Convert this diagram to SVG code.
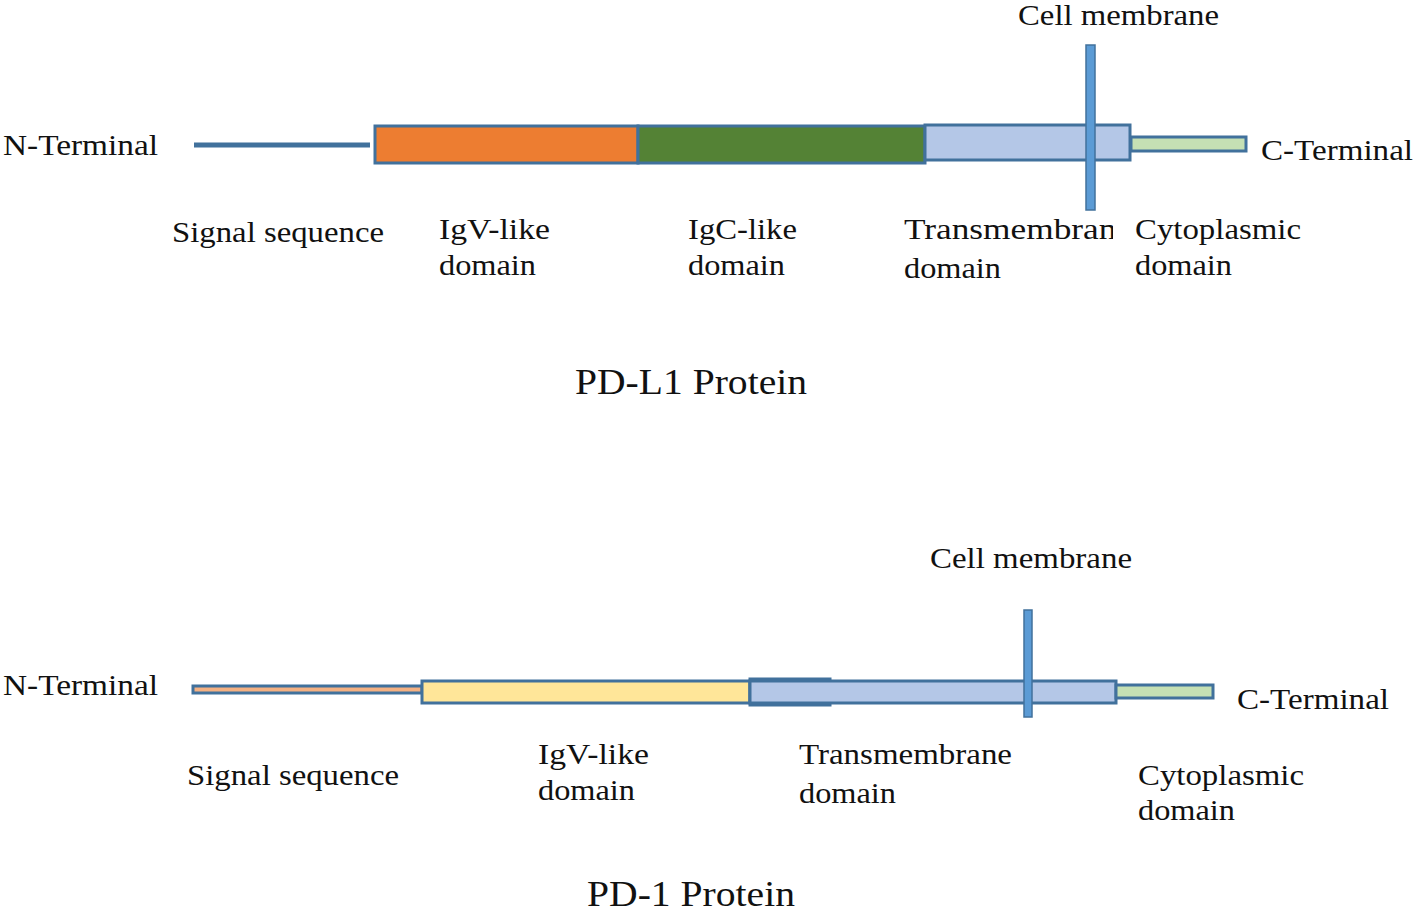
<svg xmlns="http://www.w3.org/2000/svg" width="1418" height="913" viewBox="0 0 1418 913">
<style>
text{font-family:"Liberation Serif","Times New Roman",serif;font-size:30px;fill:#111}
.t{font-size:35px}
.b{stroke:#41719c;stroke-width:3}
.m{fill:#5b9bd5;stroke:#41719c;stroke-width:1.5}
</style>
<rect width="1418" height="913" fill="#fff"/>
<g id="connectors">
<line x1="194" y1="145" x2="370" y2="145" stroke="#41719c" stroke-width="5"/>
<rect x="193" y="686" width="229" height="7" fill="#f4b183" class="b"/>
</g>
<g id="pdl1">
<rect id="igv1" x="375" y="126" width="263" height="37" fill="#ed7d31" class="b"/>
<rect id="igc1" x="638" y="126" width="287" height="37" fill="#548235" class="b"/>
<rect id="tm1" x="925" y="125" width="205" height="35" fill="#b4c7e7" class="b"/>
<rect id="cyto1" x="1131" y="137" width="115" height="14" fill="#c5e0b4" class="b"/>
<rect id="mem1" x="1086" y="45" width="9" height="165" class="m"/>
</g>
<g id="pd1">
<rect id="igv2" x="422" y="681" width="328" height="22" fill="#ffe699" class="b"/>
<rect x="750" y="679" width="80" height="26" fill="#b4c7e7" class="b"/>
<rect id="tm2" x="750" y="681" width="366" height="22" fill="#b4c7e7" class="b"/>
<rect id="cyto2" x="1116" y="685" width="97" height="13" fill="#c5e0b4" class="b"/>
<rect id="mem2" x="1024" y="610" width="8" height="107" class="m"/>
</g>
<g id="labels" lengthAdjust="spacingAndGlyphs">
<text x="1018" y="25" textLength="201" lengthAdjust="spacingAndGlyphs">Cell membrane</text>
<text x="3" y="155" textLength="155" lengthAdjust="spacingAndGlyphs">N-Terminal</text>
<text x="1261" y="160" textLength="152" lengthAdjust="spacingAndGlyphs">C-Terminal</text>
<text x="172" y="242" textLength="212" lengthAdjust="spacingAndGlyphs">Signal sequence</text>
<text x="439" y="239" textLength="111" lengthAdjust="spacingAndGlyphs">IgV-like</text><text x="439" y="275" textLength="97" lengthAdjust="spacingAndGlyphs">domain</text>
<text x="688" y="239" textLength="109" lengthAdjust="spacingAndGlyphs">IgC-like</text><text x="688" y="275" textLength="97" lengthAdjust="spacingAndGlyphs">domain</text>
<text x="904" y="239" textLength="228" lengthAdjust="spacingAndGlyphs">Transmembrane</text><text x="904" y="278" textLength="97" lengthAdjust="spacingAndGlyphs">domain</text>
<rect x="1113" y="210" width="22" height="40" fill="#fff"/>
<text x="1135" y="239" textLength="166" lengthAdjust="spacingAndGlyphs">Cytoplasmic</text><text x="1135" y="275" textLength="97" lengthAdjust="spacingAndGlyphs">domain</text>
<text class="t" x="575" y="394" textLength="232" lengthAdjust="spacingAndGlyphs">PD-L1 Protein</text>
<text x="930" y="568" textLength="202" lengthAdjust="spacingAndGlyphs">Cell membrane</text>
<text x="3" y="695" textLength="155" lengthAdjust="spacingAndGlyphs">N-Terminal</text>
<text x="1237" y="709" textLength="152" lengthAdjust="spacingAndGlyphs">C-Terminal</text>
<text x="187" y="785" textLength="212" lengthAdjust="spacingAndGlyphs">Signal sequence</text>
<text x="538" y="764" textLength="111" lengthAdjust="spacingAndGlyphs">IgV-like</text><text x="538" y="800" textLength="97" lengthAdjust="spacingAndGlyphs">domain</text>
<text x="799" y="764" textLength="213" lengthAdjust="spacingAndGlyphs">Transmembrane</text><text x="799" y="803" textLength="97" lengthAdjust="spacingAndGlyphs">domain</text>
<text x="1138" y="785" textLength="166" lengthAdjust="spacingAndGlyphs">Cytoplasmic</text><text x="1138" y="820" textLength="97" lengthAdjust="spacingAndGlyphs">domain</text>
<text class="t" x="587" y="906" textLength="208" lengthAdjust="spacingAndGlyphs">PD-1 Protein</text>
</g>
</svg>
